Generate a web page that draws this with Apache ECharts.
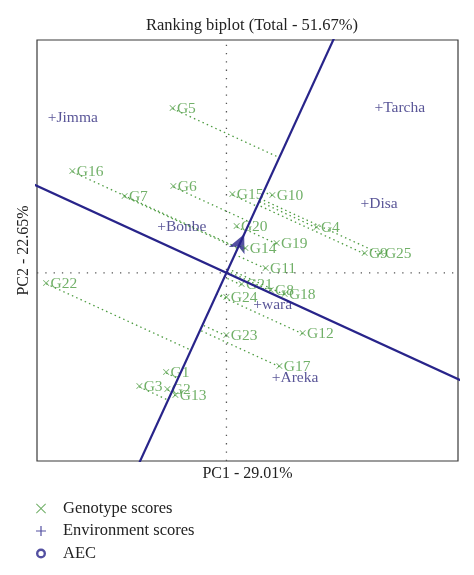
<!DOCTYPE html>
<html>
<head>
<meta charset="utf-8">
<script src="https://cdn.jsdelivr.net/npm/echarts@6/dist/echarts.min.js"></script>
<style>
  html, body { margin: 0; padding: 0; background: #fff; }
  #chart { width: 474px; height: 575px; }
</style>
</head>
<body>
<div id="chart"></div>
<script>
// genotype scores (PC1, PC2)
var genotypeNames = ['G1','G2','G3','G4','G5','G6','G7','G8','G9','G10','G11','G12','G13',
  'G14','G15','G16','G17','G18','G19','G20','G21','G22','G23','G24','G25'];
var genotypeX = [-1.43,-1.40,-2.07, 2.14,-1.28,-1.26,-2.42, 1.05, 3.28, 1.09, 0.93, 1.81,-1.21,
  0.45, 0.14,-3.66, 1.26, 1.38, 1.19, 0.24, 0.36,-4.28, 0.00, 0.00, 3.66];
var genotypeY = [-2.38,-2.78,-2.71, 1.07, 3.90, 2.04, 1.81,-0.43, 0.45, 1.83, 0.10,-1.45,-2.92,
  0.57, 1.85, 2.40,-2.23,-0.52, 0.69, 1.09,-0.29,-0.26,-1.50,-0.59, 0.45];

// environment scores
var envNames = ['Jimma','Tarcha','Disa','Bonbe','wara','Areka'];
var envX = [-4.14, 3.62, 3.29,-1.54, 0.74, 1.18];
var envY = [ 3.67, 3.91, 1.64, 1.08,-0.76,-2.50];

// average environment (AEC arrow tip)
var aecTip = [0.50, 1.09];

var xMin = -4.5, xMax = 5.5, yMin = -4.47, yMax = 5.53;

var green = '#4e9c42';
var navy = '#28248a';
var envColor = '#2f2a7d';
var serif = 'Liberation Serif';

var len = Math.sqrt(aecTip[0] * aecTip[0] + aecTip[1] * aecTip[1]);
var u = [aecTip[0] / len, aecTip[1] / len];
var v = [u[1], -u[0]];

// projections of genotypes onto the AEC abscissa
var projLines = [];
for (var i = 0; i < genotypeNames.length; i++) {
  var d = genotypeX[i] * u[0] + genotypeY[i] * u[1];
  projLines.push({ coords: [[genotypeX[i], genotypeY[i]], [d * u[0], d * u[1]]] });
}

var genoData = genotypeNames.map(function (n, i) { return { name: n, value: [genotypeX[i], genotypeY[i]] }; });
var envData = envNames.map(function (n, i) { return { name: n, value: [envX[i], envY[i]] }; });

// arrow head centred a little behind the tip
var pxPerUnit = 421 / (xMax - xMin);
var headBack = 8 / pxPerUnit;
var headPos = [aecTip[0] - u[0] * headBack, aecTip[1] - u[1] * headBack];
var headRot = -Math.atan2(u[0], u[1]) * 180 / Math.PI;

var labelStyle = function (color, prefix) {
  return {
    show: true,
    position: [-3.9, 0.5],
    align: 'left',
    verticalAlign: 'middle',
    fontFamily: serif,
    fontSize: 15.5,
    color: color,
    formatter: function (p) { return prefix + p.name; }
  };
};

var option = {
  animation: false,
  title: {
    text: 'Ranking biplot (Total - 51.67%)',
    left: 141,
    top: 12,
    textStyle: { fontFamily: serif, fontWeight: 'normal', fontSize: 16.5, color: '#222' }
  },
  legend: {
    orient: 'vertical',
    left: 31,
    top: 495,
    itemWidth: 34,
    itemHeight: 10,
    itemGap: 5.5,
    selectedMode: false,
    textStyle: { fontFamily: serif, fontSize: 16.5, color: '#222' },
    data: [
      { name: 'Genotype scores', icon: 'path://M0,0.7L0.7,0L5,4.3L9.3,0L10,0.7L5.7,5L10,9.3L9.3,10L5,5.7L0.7,10L0,9.3L4.3,5Z', itemStyle: { color: green } },
      { name: 'Environment scores', icon: 'path://M4.4,0H5.6V4.4H10V5.6H5.6V10H4.4V5.6H0V4.4H4.4Z', itemStyle: { color: navy } },
      { name: 'AEC', icon: 'path://M5,0A5,5 0 1,1 4.99,0ZM5,2.4A2.6,2.6 0 1,0 5.01,2.4Z', itemStyle: { color: navy } }
    ]
  },
  grid: { left: 37, top: 40, width: 421, height: 421, show: true, borderColor: '#3a3a3a', borderWidth: 1.2 },
  xAxis: {
    type: 'value', min: xMin, max: xMax,
    name: 'PC1 - 29.01%', nameLocation: 'middle', nameGap: 5,
    nameTextStyle: { fontFamily: serif, fontSize: 16, color: '#222', verticalAlign: 'top' },
    axisLine: { show: false }, axisTick: { show: false }, axisLabel: { show: false }, splitLine: { show: false }
  },
  yAxis: {
    type: 'value', min: yMin, max: yMax,
    name: 'PC2 - 22.65%', nameLocation: 'middle', nameGap: 5,
    nameTextStyle: { fontFamily: serif, fontSize: 16, color: '#222' },
    axisLine: { show: false }, axisTick: { show: false }, axisLabel: { show: false }, splitLine: { show: false }
  },
  series: [
    {
      type: 'line', silent: true, symbol: 'none',
      data: [[0, yMin], [0, yMax]],
      lineStyle: { color: '#555', width: 1.3, type: [1.3, 7] }
    },
    {
      type: 'line', silent: true, symbol: 'none',
      data: [[xMin, 0], [xMax, 0]],
      lineStyle: { color: '#555', width: 1.3, type: [1.3, 7] }
    },
    {
      type: 'lines', coordinateSystem: 'cartesian2d', silent: true,
      data: projLines,
      lineStyle: { color: green, width: 1.3, type: [1.5, 3.2], opacity: 1 }
    },
    {
      type: 'line', silent: true, symbol: 'none', clip: true,
      data: [[-100 * u[0], -100 * u[1]], [100 * u[0], 100 * u[1]]],
      lineStyle: { color: navy, width: 2.2 }
    },
    {
      type: 'line', silent: true, symbol: 'none', clip: true,
      data: [[-100 * v[0], -100 * v[1]], [100 * v[0], 100 * v[1]]],
      lineStyle: { color: navy, width: 2.2 }
    },
    {
      name: 'AEC', type: 'scatter', silent: true,
      symbol: 'arrow', symbolSize: [13, 18], symbolRotate: headRot,
      data: [headPos],
      itemStyle: { color: navy }
    },
    {
      name: 'Genotype scores', type: 'scatter', silent: true,
      symbolSize: 1, itemStyle: { color: 'rgba(0,0,0,0)' },
      data: genoData,
      label: labelStyle(green, '\u00d7')
    },
    {
      name: 'Environment scores', type: 'scatter', silent: true,
      symbolSize: 1, itemStyle: { color: 'rgba(0,0,0,0)' },
      data: envData,
      label: labelStyle(envColor, '+')
    }
  ]
};

var myChart = echarts.init(document.getElementById('chart'));
myChart.setOption(option);
</script>
</body>
</html>
